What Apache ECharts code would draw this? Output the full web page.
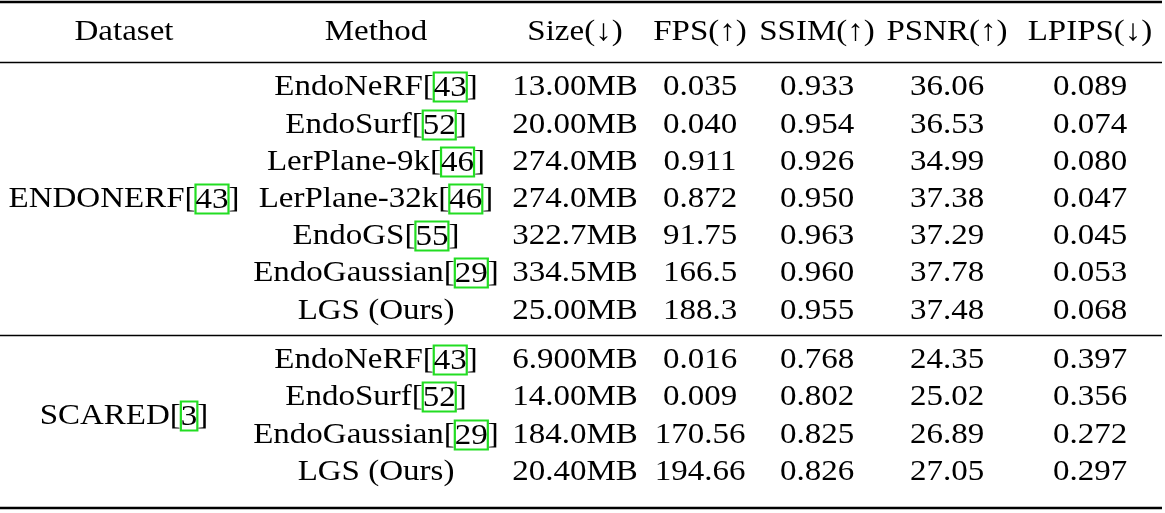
<!DOCTYPE html>
<html>
<head>
<meta charset="utf-8">
<script src="https://cdn.jsdelivr.net/npm/echarts@6/dist/echarts.min.js"></script>
<style>html,body{margin:0;padding:0;background:#fff}#main{width:1165px;height:513px}</style>
</head>
<body>
<div id="main"></div>
<script>
const headers = ['Dataset', 'Method', 'Size(↓)', 'FPS(↑)', 'SSIM(↑)', 'PSNR(↑)', 'LPIPS(↓)']
const datasets = [{name: 'ENDONERF', cite: '43', rows: 7}, {name: 'SCARED', cite: '3', rows: 4}]
const methods = [
  ['EndoNeRF', '43'], ['EndoSurf', '52'], ['LerPlane-9k', '46'], ['LerPlane-32k', '46'],
  ['EndoGS', '55'], ['EndoGaussian', '29'], ['LGS (Ours)', ''],
  ['EndoNeRF', '43'], ['EndoSurf', '52'], ['EndoGaussian', '29'], ['LGS (Ours)', '']
]
const sizes = ['13.00MB', '20.00MB', '274.0MB', '274.0MB', '322.7MB', '334.5MB', '25.00MB',
  '6.900MB', '14.00MB', '184.0MB', '20.40MB']
const fps = ['0.035', '0.040', '0.911', '0.872', '91.75', '166.5', '188.3', '0.016', '0.009', '170.56', '194.66']
const ssim = ['0.933', '0.954', '0.926', '0.950', '0.963', '0.960', '0.955', '0.768', '0.802', '0.825', '0.826']
const psnr = ['36.06', '36.53', '34.99', '37.38', '37.29', '37.78', '37.48', '24.35', '25.02', '26.89', '27.05']
const lpips = ['0.089', '0.074', '0.080', '0.047', '0.045', '0.053', '0.068', '0.397', '0.356', '0.272', '0.297']

const colX = [124, 376, 575, 700, 817, 947, 1090]
const rowY = [87, 125, 162, 199, 236, 273, 311, 360, 397, 435, 472]
const font = '30px "Liberation Serif", "DejaVu Serif", serif'
const rich = {c: {font: font, fill: '#000', borderColor: '#22dd22', borderWidth: 2, padding: [1, 0, -2, 0]}}

const withCite = (t, c) => c ? t + '[{c|' + c + '}]' : t
const els = []
function txt(x, y, s) {
  els.push({type: 'text', x: x, y: y, scaleX: 1.1, style: {text: s, font: font, fill: '#000', align: 'center', verticalAlign: 'middle', rich: rich}})
}
function rule(y, w) {
  els.push({type: 'line', shape: {x1: 0, y1: y, x2: 1162, y2: y}, style: {stroke: '#000', lineWidth: w}})
}
headers.forEach((h, i) => txt(colX[i], 32, h))
txt(colX[0], 199, withCite(datasets[0].name, datasets[0].cite))
txt(colX[0], 416, withCite(datasets[1].name, datasets[1].cite))
rowY.forEach((y, r) => {
  txt(colX[1], y, withCite(methods[r][0], methods[r][1]))
  txt(colX[2], y, sizes[r])
  txt(colX[3], y, fps[r])
  txt(colX[4], y, ssim[r])
  txt(colX[5], y, psnr[r])
  txt(colX[6], y, lpips[r])
})
rule(2, 2.5); rule(62.5, 1.5); rule(335.5, 1.5); rule(508, 2.5)

const chart = echarts.init(document.getElementById('main'))
chart.setOption({backgroundColor: '#fff', graphic: els})
</script>
</body>
</html>
